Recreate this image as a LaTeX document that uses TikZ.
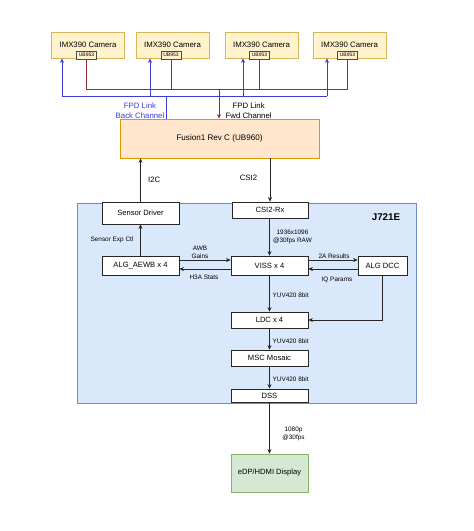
\documentclass[tikz,border=0pt]{standalone}
\usepackage{fontspec}
\setmainfont{Liberation Sans}
\usetikzlibrary{arrows.meta}
\definecolor{camfill}{HTML}{FFF2CC}
\definecolor{camdraw}{HTML}{D6B656}
\definecolor{fusfill}{HTML}{FFE6CC}
\definecolor{fusdraw}{HTML}{D79B00}
\definecolor{socfill}{HTML}{DAE8FC}
\definecolor{socdraw}{HTML}{6C8EBF}
\definecolor{dispfill}{HTML}{D5E8D4}
\definecolor{dispdraw}{HTML}{82B366}
\definecolor{fwdcol}{HTML}{8B2E2E}
\definecolor{backcol}{HTML}{3B3BD6}
\tikzset{
  blk/.style={draw=black!85, fill=white, line width=0.7pt, inner sep=0pt, font=\fontsize{7.6}{9}\selectfont},
  cambox/.style={draw=camdraw, fill=camfill, line width=0.7pt, inner sep=0pt, minimum width=73pt, minimum height=26pt, font=\fontsize{7.8}{9}\selectfont},
  ubbox/.style={draw=black!70, fill=camfill, line width=0.6pt, inner sep=0pt, minimum width=20pt, minimum height=8pt, font=\fontsize{5}{5}\selectfont},
  sml/.style={inner sep=0pt, font=\fontsize{6.4}{8}\selectfont, align=center},
  mid/.style={inner sep=0pt, font=\fontsize{7.8}{9.6}\selectfont, align=center},
  arr/.style={draw=black!85, line width=0.7pt, -{Stealth[length=4.5pt,width=4pt]}},
  fwdline/.style={draw=fwdcol, line width=0.7pt},
  backline/.style={draw=backcol, line width=0.7pt}
}
\begin{document}
\begin{tikzpicture}[x=1pt,y=-1pt]
\useasboundingbox (0,0) rectangle (474,531);
% cameras
\node[cambox] (cam1) at (88,45) {IMX390 Camera};
\node[cambox] (cam2) at (172.5,45) {IMX390 Camera};
\node[cambox] (cam3) at (261.5,45) {IMX390 Camera};
\node[cambox] (cam4) at (349.5,45) {IMX390 Camera};
\node[ubbox] (ub1) at (86.5,55) {UB953};
\node[ubbox] (ub2) at (171,55) {UB953};
\node[ubbox] (ub3) at (259.5,55) {UB953};
\node[ubbox] (ub4) at (347.5,55) {UB953};
% fusion
\node[draw=fusdraw, fill=fusfill, line width=0.7pt, minimum width=199pt, minimum height=39pt, inner sep=0pt, font=\fontsize{8.1}{10}\selectfont] (fus) at (219.5,138.5) {Fusion1 Rev C (UB960)};
% forward channel (red)
\coordinate (f1) at (ub1.south |- 0,89);
\coordinate (f4) at (ub4.south |- 0,89);
\coordinate (fj) at (219,89);
\draw[fwdline] (ub1.south) -- (f1) -- (f4) -- (ub4.south);
\draw[fwdline] (ub2.south) -- (ub2.south |- fj);
\draw[fwdline] (ub3.south) -- (ub3.south |- fj);
\draw[fwdline, -{Stealth[length=4.5pt,width=4pt]}] (fj) -- (fj |- fus.north);
% back channel (blue)
\coordinate (b1) at (62,96);
\coordinate (b2) at (150,96);
\coordinate (b3) at (243,96);
\coordinate (b4) at (327,96);
\coordinate (bj) at (166,96);
\draw[backline] (b1) -- (b4);
\draw[backline] (bj) -- (bj |- fus.north);
\foreach \b/\c in {b1/cam1,b2/cam2,b3/cam3,b4/cam4}
  \draw[backline, -{Stealth[length=4.5pt,width=4pt]}] (\b) -- (\b |- \c.south);
\node[mid, text=backcol, anchor=east] (backlbl) at (164.5,111) {FPD Link\\Back Channel};
\node[mid, anchor=west] (fwdlbl) at (225.5,111) {FPD Link\\Fwd Channel};
% SoC region
\node[draw=socdraw, fill=socfill, line width=0.7pt, minimum width=339pt, minimum height=200pt, inner sep=0pt] (soc) at (246.5,303) {};
\node[inner sep=0pt, font=\fontsize{9.8}{11}\selectfont\bfseries] (soclbl) at (386,217) {J721E};
% blocks
\node[blk, minimum width=77pt, minimum height=22pt] (sd) at (140.5,213) {Sensor Driver};
\node[blk, minimum width=76pt, minimum height=16pt] (csi) at (270,210) {CSI2-Rx};
\node[blk, minimum width=77pt, minimum height=19pt] (aewb) at (140.5,265.5) {ALG\_AEWB x 4};
\node[blk, minimum width=77pt, minimum height=19pt] (viss) at (269.5,265.5) {VISS x 4};
\node[blk, minimum width=49pt, minimum height=19pt] (dcc) at (382.5,265.5) {ALG DCC};
\node[blk, minimum width=77pt, minimum height=16pt] (ldc) at (269.5,320) {LDC x 4};
\node[blk, minimum width=77pt, minimum height=16pt] (msc) at (269.5,358) {MSC Mosaic};
\node[blk, minimum width=77pt, minimum height=13pt] (dss) at (269.5,395.5) {DSS};
\node[draw=dispdraw, fill=dispfill, line width=0.7pt, minimum width=77pt, minimum height=38pt, inner sep=0pt, font=\fontsize{7.6}{9}\selectfont] (disp) at (269.5,473) {eDP/HDMI Display};
% connectors
\draw[arr] (sd.north) -- (sd.north |- fus.south);
\node[mid, anchor=west] (i2c) at (148,180) {I2C};
\draw[arr] (csi.north |- fus.south) -- (csi.north);
\node[mid] (csilbl) at (248.5,178) {CSI2};
\draw[arr] (csi.south -| viss.north) -- (viss.north);
\node[sml] (rawlbl) at (292.5,237) {1936x1096\\@30fps RAW};
\draw[arr] (aewb.north) -- (aewb.north |- sd.south);
\node[sml] (explbl) at (112,240) {Sensor Exp Ctl};
\draw[arr] (aewb.east |- 0,260) -- (viss.west |- 0,260);
\node[sml, anchor=south] (awblbl) at (200,258.5) {AWB\\Gains};
\draw[arr] (viss.west |- 0,269) -- (aewb.east |- 0,269);
\node[sml] (h3albl) at (204,277.5) {H3A Stats};
\draw[arr] (viss.east |- 0,260) -- (dcc.west |- 0,260);
\node[sml] (resultlbl) at (334,256.5) {2A Results};
\draw[arr] (dcc.west |- 0,269) -- (viss.east |- 0,269);
\node[sml] (iqlbl) at (337,280) {IQ Params};
\draw[arr] (dcc.south) |- (ldc.east);
\draw[arr] (viss.south) -- (ldc.north);
\node[sml, anchor=west] (yuv1) at (272.5,295) {YUV420 8bit};
\draw[arr] (ldc.south) -- (msc.north);
\node[sml, anchor=west] (yuv2) at (272.5,341) {YUV420 8bit};
\draw[arr] (msc.south) -- (dss.north);
\node[sml, anchor=west] (yuv3) at (272.5,379) {YUV420 8bit};
\draw[arr] (dss.south) -- (disp.north);
\node[sml] (fpslbl) at (293.5,434) {1080p\\@30fps};
\end{tikzpicture}
\end{document}
